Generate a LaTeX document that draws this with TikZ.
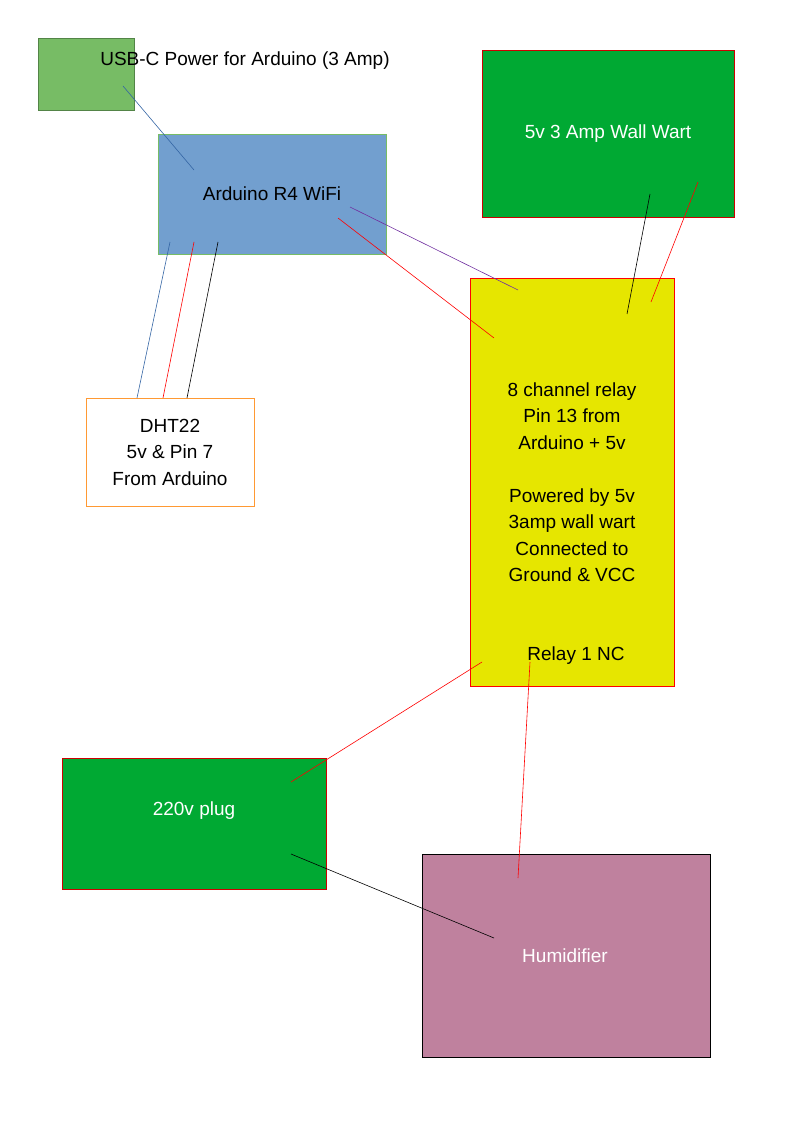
\documentclass[tikz,border=0pt]{standalone}
\usepackage{fontspec}
\setmainfont{Liberation Sans}
\begin{document}
\begin{tikzpicture}[x=1pt,y=-1pt,
  box/.style={draw,line width=0.8pt},
  lbl/.style={font=\fontsize{19}{26.5}\selectfont,align=center,inner sep=0},
  wire/.style={line width=0.6pt}]
\useasboundingbox (0,0) rectangle (794,1123);
\definecolor{gUSB}{HTML}{77BC65}
\definecolor{gW}{HTML}{00A933}
\definecolor{bA}{HTML}{729FCF}
\definecolor{yR}{HTML}{E6E600}
\definecolor{pH}{HTML}{BF819E}
\definecolor{oD}{HTML}{FF9933}
\definecolor{bL}{HTML}{3465A4}
\definecolor{pL}{HTML}{7030A0}
\draw[box,fill=gUSB,draw=gUSB!70!black] (38,38) rectangle (134,110);
\draw[box,fill=bA,draw=gUSB] (158,134) rectangle (386,254);
\draw[box,fill=gW,draw=red!80!black] (482,50) rectangle (734,217);
\draw[box,fill=yR,draw=red] (470,278) rectangle (674,686);
\draw[box,fill=white,draw=oD] (86,398) rectangle (254,506);
\draw[box,fill=gW,draw=red!80!black] (62,758) rectangle (326,889);
\draw[box,fill=pH,draw=black] (422,854) rectangle (710,1057);
\node[lbl] (usb) at (245,61) {USB-C Power for Arduino (3 Amp)};
\node[lbl] (ard) at (272,194) {Arduino R4 WiFi};
\node[lbl,text=white] (ww) at (608,134) {5v 3 Amp Wall Wart};
\node[lbl] (dht) at (170,452) {DHT22\\5v \& Pin 7\\From Arduino};
\node[lbl] (rel) at (572,482) {8 channel relay\\Pin 13 from\\Arduino + 5v\\[26.5pt]Powered by 5v\\3amp wall wart\\Connected to\\Ground \& VCC};
\node[lbl] (nc) at (576,656) {Relay 1 NC};
\node[lbl,text=white] (plug) at (194,811) {220v plug};
\node[lbl,text=white] (hum) at (565,956) {Humidifier};
\coordinate (a1) at (123,86); \coordinate (a2) at (194,170);
\coordinate (b1) at (350,207); \coordinate (b2) at (518,290);
\coordinate (c1) at (338,218); \coordinate (c2) at (494,338);
\coordinate (d1) at (170,242); \coordinate (d2) at (137,398);
\coordinate (e1) at (194,242); \coordinate (e2) at (163,398);
\coordinate (f1) at (218,242); \coordinate (f2) at (187,398);
\coordinate (g1) at (650,194); \coordinate (g2) at (627,314);
\coordinate (h1) at (698,182); \coordinate (h2) at (651,302);
\coordinate (i1) at (482,662); \coordinate (i2) at (291,782);
\coordinate (j1) at (530,662); \coordinate (j2) at (518,878);
\coordinate (k1) at (291,854); \coordinate (k2) at (494,938);
\draw[wire,bL] (a1)--(a2);
\draw[wire,pL] (b1)--(b2);
\draw[wire,red] (c1)--(c2);
\draw[wire,bL] (d1)--(d2);
\draw[wire,red] (e1)--(e2);
\draw[wire,black] (f1)--(f2);
\draw[wire,black] (g1)--(g2);
\draw[wire,red] (h1)--(h2);
\draw[wire,red] (i1)--(i2);
\draw[wire,red] (j1)--(j2);
\draw[wire,black] (k1)--(k2);
\end{tikzpicture}
\end{document}
